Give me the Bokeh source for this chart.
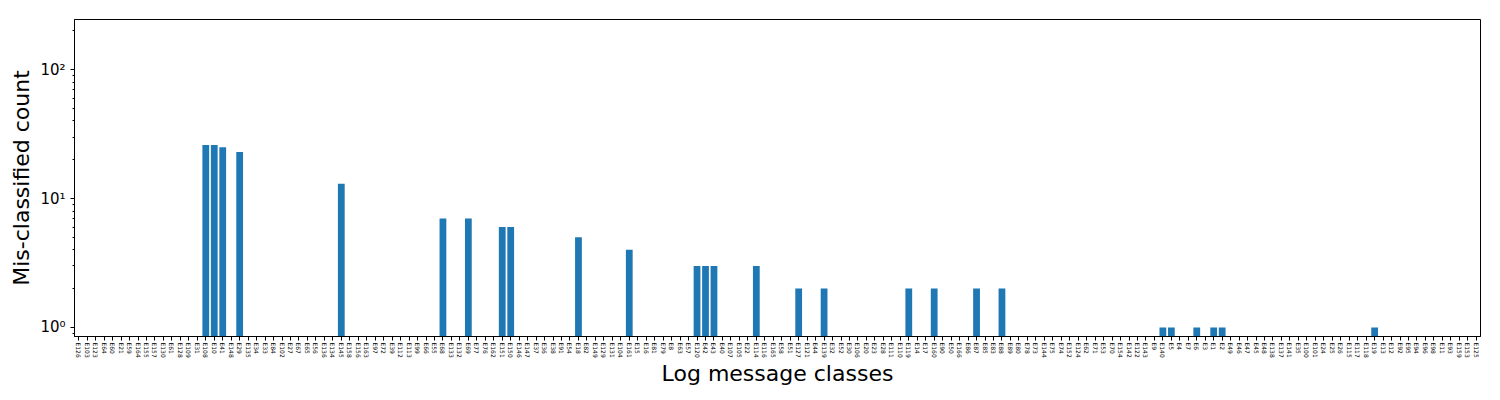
from bokeh.plotting import figure
from bokeh.models import FactorRange, Range1d, ColumnDataSource, CustomJSTickFormatter
from bokeh.embed import file_html
from bokeh.resources import INLINE

categories = [
    "E126", "E103", "E123", "E64", "E60", "E21", "E59", "E164", "E155", "E157",
    "E130", "E61", "E128", "E109", "E31", "E108", "E10", "E41", "E148", "E29",
    "E135", "E34", "E33", "E84", "E102", "E27", "E67", "E65", "E56", "E136",
    "E134", "E145", "E158", "E156", "E163", "E97", "E72", "E39", "E112", "E113",
    "E99", "E66", "E55", "E68", "E133", "E132", "E69", "E77", "E76", "E162",
    "E151", "E150", "E146", "E147", "E37", "E36", "E38", "E91", "E54", "E18",
    "E82", "E149", "E129", "E131", "E104", "E161", "E15", "E16", "E81", "E79",
    "E8", "E63", "E57", "E120", "E42", "E43", "E40", "E107", "E105", "E22",
    "E114", "E116", "E165", "E58", "E51", "E127", "E121", "E44", "E139", "E32",
    "E52", "E30", "E106", "E20", "E23", "E28", "E111", "E110", "E119", "E14",
    "E17", "E160", "E90", "E50", "E166", "E86", "E87", "E85", "E83", "E88",
    "E89", "E80", "E78", "E73", "E144", "E75", "E74", "E152", "E124", "E62",
    "E71", "E53", "E70", "E154", "E142", "E122", "E143", "E9", "E140", "E5",
    "E4", "E7", "E6", "E3", "E1", "E2", "E49", "E46", "E47", "E45",
    "E48", "E138", "E137", "E141", "E35", "E100", "E101", "E24", "E25", "E26",
    "E115", "E117", "E118", "E19", "E13", "E12", "E92", "E95", "E94", "E96",
    "E98", "E11", "E93", "E159", "E153", "E125",
]

misclassified = {
    "E108": 26, "E10": 26, "E41": 25, "E29": 23, "E145": 13,
    "E68": 7, "E69": 7, "E151": 6, "E150": 6, "E18": 5, "E161": 4,
    "E120": 3, "E42": 3, "E43": 3, "E114": 3,
    "E127": 2, "E139": 2, "E119": 2, "E160": 2, "E87": 2, "E88": 2,
    "E140": 1, "E5": 1, "E6": 1, "E1": 1, "E2": 1, "E19": 1,
}

counts = [misclassified.get(c, 0) for c in categories]

bar_x = [c for c, v in zip(categories, counts) if v > 0]
bar_top = [v for v in counts if v > 0]

source = ColumnDataSource(data=dict(x=bar_x, top=bar_top))

p = figure(
    x_range=FactorRange(factors=categories, range_padding=0),
    y_range=Range1d(0.85, 245),
    y_axis_type="log",
    width=1490, height=392,
    output_backend="svg",
    toolbar_location=None,
    min_border_left=74, min_border_right=10,
    min_border_top=19, min_border_bottom=56,
)

p.vbar(x="x", top="top", bottom=0.01, width=0.8, source=source,
       fill_color="#1f77b4", line_color=None)

p.xgrid.visible = False
p.ygrid.visible = False
p.outline_line_color = "black"
p.outline_line_width = 1
p.background_fill_color = "white"
p.border_fill_color = "white"

p.xaxis.axis_label = "Log message classes"
p.yaxis.axis_label = "Mis-classified count"
for ax in (p.xaxis[0], p.yaxis[0]):
    ax.axis_label_text_font = "DejaVu Sans"
    ax.axis_label_text_font_style = "normal"
    ax.axis_label_text_font_size = "22px"
    ax.axis_label_text_color = "black"
    ax.axis_line_color = "black"
    ax.major_tick_line_color = "black"
    ax.minor_tick_line_color = "black"
    ax.major_tick_in = 0
    ax.major_tick_out = 4
    ax.minor_tick_in = 0
    ax.minor_tick_out = 2
    ax.major_label_text_font = "DejaVu Sans"
    ax.major_label_text_color = "black"

p.xaxis.major_label_orientation = "vertical"
p.xaxis.major_label_text_font_size = "6px"
p.xaxis.major_label_standoff = 2
p.xaxis.axis_label_standoff = 0

p.yaxis.major_label_text_font_size = "15px"
p.yaxis.axis_label_standoff = 3
p.yaxis.formatter = CustomJSTickFormatter(code="""
const sup = ['\u2070','\u00b9','\u00b2','\u00b3','\u2074','\u2075','\u2076','\u2077','\u2078','\u2079'];
const e = Math.round(Math.log10(tick));
let s = '';
for (const ch of String(e)) { s += (ch === '-') ? '\u207b' : sup[parseInt(ch)]; }
return '10' + s;
""")

open("out.html", "w").write(file_html(p, INLINE))
